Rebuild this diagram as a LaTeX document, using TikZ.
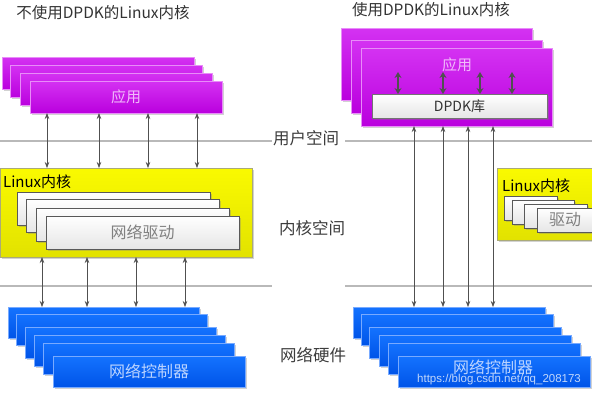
\documentclass[tikz,border=0pt]{standalone}
\usepackage{fontspec}
\setmainfont{Noto Sans CJK SC}
\newfontfamily\wmfont{Liberation Sans}
\usetikzlibrary{arrows.meta,shadows}
\definecolor{magT}{RGB}{212,50,242}
\definecolor{magB}{RGB}{186,0,222}
\definecolor{magD}{RGB}{232,140,248}
\definecolor{bluT}{RGB}{20,115,255}
\definecolor{bluB}{RGB}{0,84,232}
\definecolor{bluD}{RGB}{120,170,255}
\definecolor{yelT}{RGB}{250,250,0}
\definecolor{yelB}{RGB}{226,226,0}
\definecolor{yelD}{RGB}{170,170,120}
\definecolor{sepline}{RGB}{185,185,185}
\definecolor{arr}{RGB}{80,80,80}
\definecolor{lbl}{RGB}{60,60,60}
\tikzset{
  box/.style={anchor=north west, inner sep=0pt, outer sep=0pt,
    drop shadow={shadow xshift=1.5pt, shadow yshift=-1.5pt, opacity=0.35}},
  appbox/.style={box, draw=magD, line width=0.8pt, top color=magT, bottom color=magB,
    text=magD!60!white, font=\fontsize{15}{15}\selectfont},
  nicbox/.style={box, draw=bluD, line width=0.8pt, top color=bluT, bottom color=bluB,
    text=bluD!50!white, font=\fontsize{16}{16}\selectfont},
  kerbox/.style={box, draw=yelD, line width=0.8pt, top color=yelT, bottom color=yelB},
  drvbox/.style={box, draw=black!65, line width=0.8pt, top color=white, bottom color=black!10,
    text=black!50, font=\fontsize{16}{16}\selectfont},
  libbox/.style={box, draw=black!55, line width=0.8pt, top color=white, bottom color=black!10,
    text=black!80, font=\fontsize{14}{14}\selectfont},
  dbl/.style={arr, line width=0.7pt, {Stealth[length=6pt,width=4.5pt]}-{Stealth[length=6pt,width=4.5pt]}},
  dblthick/.style={arr, line width=1.5pt, {Stealth[length=6pt,width=7pt]}-{Stealth[length=6pt,width=7pt]}},
  sep/.style={draw=sepline, line width=1.4pt},
  title/.style={text=black!80, font=\fontsize{15.5}{15.5}\selectfont, inner sep=0pt},
  layer/.style={text=lbl, font=\fontsize{16.5}{16.5}\selectfont, inner sep=1pt},
  kertitle/.style={anchor=west, inner sep=0pt, text=black, font=\fontsize{15}{15}\selectfont},
}
\begin{document}
\begin{tikzpicture}[x=1pt,y=-1pt]
\useasboundingbox (0,0) rectangle (592,405);
\clip (0,0) rectangle (592,405);
\fill[white] (0,0) rectangle (592,405);

% titles
\node[title] (tl) at (103,13) {不使用DPDK的Linux内核};
\node[title] (tr) at (431,10) {使用DPDK的Linux内核};

% separator lines and layer labels
\node[layer] (lu) at (306,138) {用户空间};
\node[layer] (lk) at (312,228) {内核空间};
\node[layer] (lh) at (313,355) {网络硬件};
\coordinate (s1l) at (0,141);
\coordinate (s1r) at (592,141);
\coordinate (s2l) at (0,286);
\coordinate (s2r) at (592,286);
\draw[sep] (s1l) -- (lu.west |- s1l);
\draw[sep] (345,141) -- (s1r);
\draw[sep] (s2l) -- (272,286);
\draw[sep] (345,286) -- (s2r);

% ---------------- left side ----------------
\node[appbox, minimum width=192pt, minimum height=32pt] (la1) at (2,57) {};
\node[appbox, minimum width=192pt, minimum height=32pt] (la2) at (10,65) {};
\node[appbox, minimum width=192pt, minimum height=32pt] (la3) at (20,73) {};
\node[appbox, minimum width=192pt, minimum height=32pt] (la4) at (30,81) {应用};

\node[kerbox, minimum width=252pt, minimum height=89pt] (lker) at (0,168) {};
\node[kertitle] (lkt) at (3,182) {Linux内核};
\node[drvbox, minimum width=193pt, minimum height=33pt] (ld1) at (17,192) {};
\node[drvbox, minimum width=193pt, minimum height=33pt] (ld2) at (26,199) {};
\node[drvbox, minimum width=193pt, minimum height=33pt] (ld3) at (36,208) {};
\node[drvbox, minimum width=193pt, minimum height=33pt] (ld4) at (46,216) {网络驱动};

\node[nicbox, minimum width=191pt, minimum height=31pt] (ln1) at (8,307) {};
\node[nicbox, minimum width=191pt, minimum height=31pt] (ln2) at (16,314) {};
\node[nicbox, minimum width=191pt, minimum height=31pt] (ln3) at (25,327) {};
\node[nicbox, minimum width=191pt, minimum height=31pt] (ln4) at (34,335) {};
\node[nicbox, minimum width=191pt, minimum height=31pt] (ln5) at (43,343) {};
\node[nicbox, minimum width=192pt, minimum height=31pt] (ln6) at (53,356) {网络控制器};

\foreach \x [count=\i] in {47,99,148,197} {
  \coordinate (lx\i) at (\x,0);
  \draw[dbl] (la4.south -| lx\i) -- (lker.north -| lx\i);
}
\foreach \x [count=\i] in {42,87,136,185} {
  \coordinate (ly\i) at (\x,0);
  \draw[dbl] (lker.south -| ly\i) -- (ln1.north -| ly\i);
}

% ---------------- right side ----------------
\node[appbox, minimum width=191pt, minimum height=72pt] (ra1) at (341,28) {};
\node[appbox, minimum width=191pt, minimum height=73pt] (ra2) at (351,40) {};
\node[appbox, minimum width=191pt, minimum height=78pt] (ra3) at (361,48) {};
\node[text=magD!60!white, font=\fontsize{15}{15}\selectfont, inner sep=0pt] (rat) at (457,65) {应用};
\node[libbox, minimum width=175pt, minimum height=24pt] (lib) at (372,94) {DPDK库};

\foreach \x [count=\i] in {398,443,480,512} {
  \coordinate (rx\i) at (\x,0);
  \draw[dblthick] (lib.north -| rx\i) -- ++(0,-22);
}

\node[kerbox, minimum width=110pt, minimum height=72pt] (rker) at (497,168) {};
\node[kertitle] (rkt) at (502,186) {Linux内核};
\node[drvbox, minimum width=53pt, minimum height=24pt] (rd1) at (504,196) {};
\node[drvbox, minimum width=62pt, minimum height=24pt] (rd2) at (512,200) {};
\node[drvbox, minimum width=63pt, minimum height=24pt] (rd3) at (524,204) {};
\node[drvbox, minimum width=62pt, minimum height=24pt] (rd4) at (537,208) {};
\node[text=black!50, font=\fontsize{16}{16}\selectfont, inner sep=0pt] (rdt) at (565,220) {驱动};

\node[nicbox, minimum width=192pt, minimum height=31pt] (rn1) at (353,307) {};
\node[nicbox, minimum width=192pt, minimum height=31pt] (rn2) at (361,314) {};
\node[nicbox, minimum width=192pt, minimum height=31pt] (rn3) at (369,327) {};
\node[nicbox, minimum width=192pt, minimum height=31pt] (rn4) at (379,335) {};
\node[nicbox, minimum width=192pt, minimum height=31pt] (rn5) at (388,343) {};
\node[nicbox, minimum width=192pt, minimum height=31pt] (rn6) at (398,356) {};
\node[text=bluD!50!white, font=\fontsize{16}{16}\selectfont, inner sep=0pt] (rnt) at (493,367) {网络控制器};

\foreach \x [count=\i] in {414,443,468,493} {
  \coordinate (rz\i) at (\x,0);
  \draw[dbl] (ra3.south -| rz\i) -- (rn1.north -| rz\i);
}

% watermark
\node[anchor=west, inner sep=0pt, text=white, opacity=0.75, font=\wmfont\fontsize{11.5}{11.5}\selectfont] (wm) at (417,380) {https://blog.csdn.net/qq\_208173};
\end{tikzpicture}
\end{document}
